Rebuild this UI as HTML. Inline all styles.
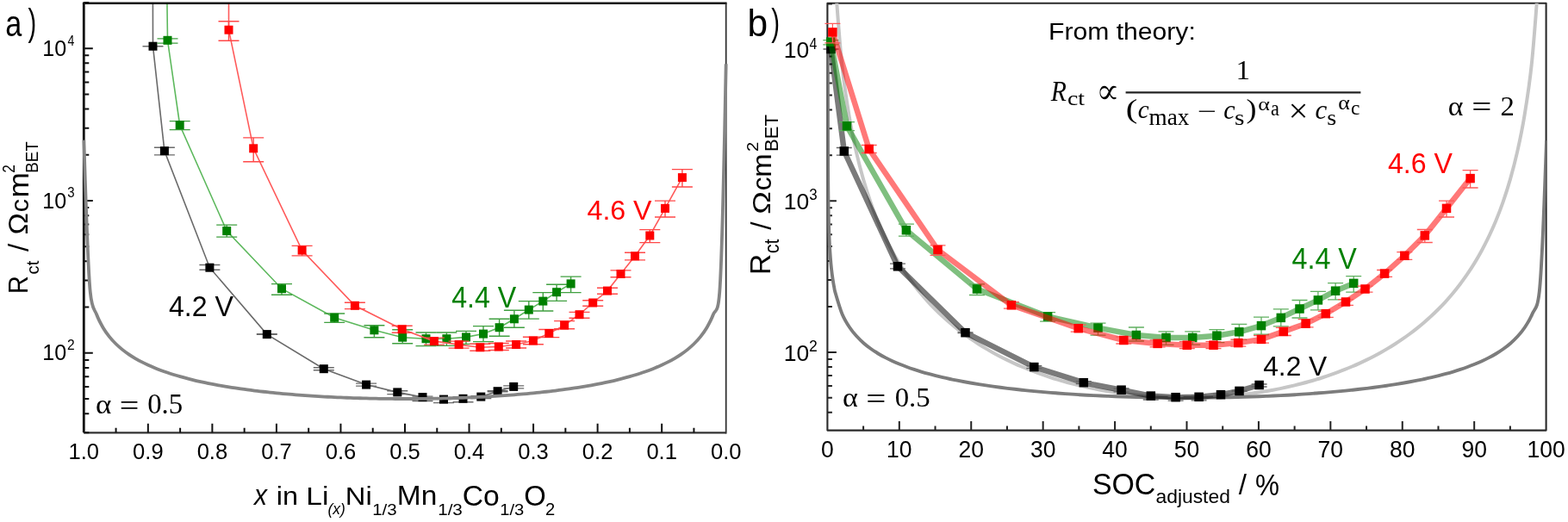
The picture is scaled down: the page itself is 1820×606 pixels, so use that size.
<!DOCTYPE html>
<html><head><meta charset="utf-8"><title>Rct vs SOC</title>
<style>html,body{margin:0;padding:0;background:#fff;overflow:hidden}svg{display:block}</style>
</head><body>
<svg width="1820" height="606" viewBox="0 0 1820 606">
<rect width="1820" height="606" fill="#fff"/>
<defs><clipPath id="cl"><rect x="97.3" y="3.8" width="745.4" height="498.5"/></clipPath>
<clipPath id="cr"><rect x="960.4" y="3.8" width="834.2" height="495.8"/></clipPath></defs>
<g clip-path="url(#cl)"><polyline points="177.4,0 177.5,53.7 190.9,175.2 243.4,310.7 309.8,388.1 375.8,428.2 425.1,446.6 461.3,455.4 490.5,461.1 515,463.6 537.5,462.8 558.3,460.6 577.6,454.2 596.2,448.9" fill="none" stroke="#6a6a6a" stroke-width="1.6"/></g>
<path d="M165.5,53.7h24M165.5,53.7h24M177.5,53.7V53.7" stroke="#6a6a6a" stroke-width="1.4" fill="none"/><rect x="172.5" y="48.7" width="10" height="10" fill="#000"/><path d="M178.9,171.2h24M178.9,179.9h24M190.9,171.2V179.9" stroke="#6a6a6a" stroke-width="1.4" fill="none"/><rect x="185.9" y="170.2" width="10" height="10" fill="#000"/><path d="M231.4,307.5h24M231.4,313.3h24M243.4,307.5V313.3" stroke="#6a6a6a" stroke-width="1.4" fill="none"/><rect x="238.4" y="305.7" width="10" height="10" fill="#000"/><path d="M297.8,387.8h24M297.8,388.4h24M309.8,387.8V388.4" stroke="#6a6a6a" stroke-width="1.4" fill="none"/><rect x="304.8" y="383.1" width="10" height="10" fill="#000"/><path d="M363.8,426.7h24M363.8,429.7h24M375.8,426.7V429.7" stroke="#6a6a6a" stroke-width="1.4" fill="none"/><rect x="370.8" y="423.2" width="10" height="10" fill="#000"/><path d="M413.1,445.1h24M413.1,448.1h24M425.1,445.1V448.1" stroke="#6a6a6a" stroke-width="1.4" fill="none"/><rect x="420.1" y="441.6" width="10" height="10" fill="#000"/><path d="M449.3,453.7h24M449.3,457.6h24M461.3,453.7V457.6" stroke="#6a6a6a" stroke-width="1.4" fill="none"/><rect x="456.3" y="450.4" width="10" height="10" fill="#000"/><path d="M478.5,460.1h24M478.5,465.5h24M490.5,460.1V465.5" stroke="#6a6a6a" stroke-width="1.4" fill="none"/><rect x="485.5" y="456.1" width="10" height="10" fill="#000"/><path d="M503,462.6h24M503,467.6h24M515,462.6V467.6" stroke="#6a6a6a" stroke-width="1.4" fill="none"/><rect x="510" y="458.6" width="10" height="10" fill="#000"/><path d="M525.5,460.8h24M525.5,466.8h24M537.5,460.8V466.8" stroke="#6a6a6a" stroke-width="1.4" fill="none"/><rect x="532.5" y="457.8" width="10" height="10" fill="#000"/><path d="M546.3,459.6h24M546.3,462.6h24M558.3,459.6V462.6" stroke="#6a6a6a" stroke-width="1.4" fill="none"/><rect x="553.3" y="455.6" width="10" height="10" fill="#000"/><path d="M565.6,453.7h24M565.6,454.7h24M577.6,453.7V454.7" stroke="#6a6a6a" stroke-width="1.4" fill="none"/><rect x="572.6" y="449.2" width="10" height="10" fill="#000"/><path d="M584.2,447.9h24M584.2,450.9h24M596.2,447.9V450.9" stroke="#6a6a6a" stroke-width="1.4" fill="none"/><rect x="591.2" y="443.9" width="10" height="10" fill="#000"/>
<g clip-path="url(#cl)"><polyline points="193.9,0 194.5,46.8 208.7,145.2 263.2,268.1 327,335.2 388.2,368.8 434.4,383.3 467.2,391.7 494.5,393.2 518.4,393.2 541,391.4 561,387.6 579.6,380.2 596.9,370.3 613.8,359.6 630.3,349.6 646.1,339.2 662.6,329.4" fill="none" stroke="#5cb85c" stroke-width="1.6"/></g>
<path d="M182.5,44.9h24M182.5,50.1h24M194.5,44.9V50.1" stroke="#40a040" stroke-width="1.4" fill="none"/><rect x="189.5" y="41.8" width="10" height="10" fill="#008000"/><path d="M196.7,140.6h24M196.7,150.6h24M208.7,140.6V150.6" stroke="#40a040" stroke-width="1.4" fill="none"/><rect x="203.7" y="140.2" width="10" height="10" fill="#008000"/><path d="M251.2,261.1h24M251.2,275.1h24M263.2,261.1V275.1" stroke="#40a040" stroke-width="1.4" fill="none"/><rect x="258.2" y="263.1" width="10" height="10" fill="#008000"/><path d="M315,329.6h24M315,342.2h24M327,329.6V342.2" stroke="#40a040" stroke-width="1.4" fill="none"/><rect x="322" y="330.2" width="10" height="10" fill="#008000"/><path d="M376.2,364h24M376.2,374.4h24M388.2,364V374.4" stroke="#40a040" stroke-width="1.4" fill="none"/><rect x="383.2" y="363.8" width="10" height="10" fill="#008000"/><path d="M422.4,377.8h24M422.4,391.8h24M434.4,377.8V391.8" stroke="#40a040" stroke-width="1.4" fill="none"/><rect x="429.4" y="378.3" width="10" height="10" fill="#008000"/><path d="M455.2,382.7h24M455.2,398.7h24M467.2,382.7V398.7" stroke="#40a040" stroke-width="1.4" fill="none"/><rect x="462.2" y="386.7" width="10" height="10" fill="#008000"/><path d="M482.5,386h24M482.5,401.6h24M494.5,386V401.6" stroke="#40a040" stroke-width="1.4" fill="none"/><rect x="489.5" y="388.2" width="10" height="10" fill="#008000"/><path d="M506.4,386h24M506.4,401.4h24M518.4,386V401.4" stroke="#40a040" stroke-width="1.4" fill="none"/><rect x="513.4" y="388.2" width="10" height="10" fill="#008000"/><path d="M529,384.4h24M529,399.4h24M541,384.4V399.4" stroke="#40a040" stroke-width="1.4" fill="none"/><rect x="536" y="386.4" width="10" height="10" fill="#008000"/><path d="M549,378.6h24M549,396.6h24M561,378.6V396.6" stroke="#40a040" stroke-width="1.4" fill="none"/><rect x="556" y="382.6" width="10" height="10" fill="#008000"/><path d="M567.6,370.2h24M567.6,390.2h24M579.6,370.2V390.2" stroke="#40a040" stroke-width="1.4" fill="none"/><rect x="574.6" y="375.2" width="10" height="10" fill="#008000"/><path d="M584.9,360.3h24M584.9,380.3h24M596.9,360.3V380.3" stroke="#40a040" stroke-width="1.4" fill="none"/><rect x="591.9" y="365.3" width="10" height="10" fill="#008000"/><path d="M601.8,349.6h24M601.8,370.1h24M613.8,349.6V370.1" stroke="#40a040" stroke-width="1.4" fill="none"/><rect x="608.8" y="354.6" width="10" height="10" fill="#008000"/><path d="M618.3,339.6h24M618.3,361h24M630.3,339.6V361" stroke="#40a040" stroke-width="1.4" fill="none"/><rect x="625.3" y="344.6" width="10" height="10" fill="#008000"/><path d="M634.1,330.2h24M634.1,349.4h24M646.1,330.2V349.4" stroke="#40a040" stroke-width="1.4" fill="none"/><rect x="641.1" y="334.2" width="10" height="10" fill="#008000"/><path d="M650.6,321.1h24M650.6,339.6h24M662.6,321.1V339.6" stroke="#40a040" stroke-width="1.4" fill="none"/><rect x="657.6" y="324.4" width="10" height="10" fill="#008000"/>
<g clip-path="url(#cl)"><polyline points="265.5,0 265.5,34.7 294.2,172.3 350.6,290.6 411.9,354.8 466.7,382.3 503.9,396.1 532.6,400.1 557.3,403.3 578.8,402.5 599.1,400 618.9,395.5 637.3,387 655.1,377.6 672.5,365.2 688.2,351.5 705,337.6 720.5,318 737,297.3 754.3,273.5 772,241.9 791.9,206.1" fill="none" stroke="#ff5a5a" stroke-width="1.6"/></g>
<path d="M253.5,24.7h24M253.5,47.2h24M265.5,24.7V47.2" stroke="#ff4848" stroke-width="1.4" fill="none"/><rect x="260.5" y="29.7" width="10" height="10" fill="#ff0000"/><path d="M282.2,159.9h24M282.2,187.7h24M294.2,159.9V187.7" stroke="#ff4848" stroke-width="1.4" fill="none"/><rect x="289.2" y="167.3" width="10" height="10" fill="#ff0000"/><path d="M338.6,285.4h24M338.6,296.9h24M350.6,285.4V296.9" stroke="#ff4848" stroke-width="1.4" fill="none"/><rect x="345.6" y="285.6" width="10" height="10" fill="#ff0000"/><path d="M399.9,351.2h24M399.9,358.6h24M411.9,351.2V358.6" stroke="#ff4848" stroke-width="1.4" fill="none"/><rect x="406.9" y="349.8" width="10" height="10" fill="#ff0000"/><path d="M454.7,378.3h24M454.7,386.3h24M466.7,378.3V386.3" stroke="#ff4848" stroke-width="1.4" fill="none"/><rect x="461.7" y="377.3" width="10" height="10" fill="#ff0000"/><path d="M491.9,392.1h24M491.9,400.1h24M503.9,392.1V400.1" stroke="#ff4848" stroke-width="1.4" fill="none"/><rect x="498.9" y="391.1" width="10" height="10" fill="#ff0000"/><path d="M520.6,396.1h24M520.6,404.1h24M532.6,396.1V404.1" stroke="#ff4848" stroke-width="1.4" fill="none"/><rect x="527.6" y="395.1" width="10" height="10" fill="#ff0000"/><path d="M545.3,399.3h24M545.3,407.3h24M557.3,399.3V407.3" stroke="#ff4848" stroke-width="1.4" fill="none"/><rect x="552.3" y="398.3" width="10" height="10" fill="#ff0000"/><path d="M566.8,398.5h24M566.8,406.5h24M578.8,398.5V406.5" stroke="#ff4848" stroke-width="1.4" fill="none"/><rect x="573.8" y="397.5" width="10" height="10" fill="#ff0000"/><path d="M587.1,396h24M587.1,404h24M599.1,396V404" stroke="#ff4848" stroke-width="1.4" fill="none"/><rect x="594.1" y="395" width="10" height="10" fill="#ff0000"/><path d="M606.9,391.3h24M606.9,399.7h24M618.9,391.3V399.7" stroke="#ff4848" stroke-width="1.4" fill="none"/><rect x="613.9" y="390.5" width="10" height="10" fill="#ff0000"/><path d="M625.3,382.5h24M625.3,391.6h24M637.3,382.5V391.6" stroke="#ff4848" stroke-width="1.4" fill="none"/><rect x="632.3" y="382" width="10" height="10" fill="#ff0000"/><path d="M643.1,372.6h24M643.1,381.7h24M655.1,372.6V381.7" stroke="#ff4848" stroke-width="1.4" fill="none"/><rect x="650.1" y="372.6" width="10" height="10" fill="#ff0000"/><path d="M660.5,362.4h24M660.5,369.3h24M672.5,362.4V369.3" stroke="#ff4848" stroke-width="1.4" fill="none"/><rect x="667.5" y="360.2" width="10" height="10" fill="#ff0000"/><path d="M676.2,348.7h24M676.2,355.3h24M688.2,348.7V355.3" stroke="#ff4848" stroke-width="1.4" fill="none"/><rect x="683.2" y="346.5" width="10" height="10" fill="#ff0000"/><path d="M693,334.3h24M693,341.3h24M705,334.3V341.3" stroke="#ff4848" stroke-width="1.4" fill="none"/><rect x="700" y="332.6" width="10" height="10" fill="#ff0000"/><path d="M708.5,313.9h24M708.5,321.8h24M720.5,313.9V321.8" stroke="#ff4848" stroke-width="1.4" fill="none"/><rect x="715.5" y="313" width="10" height="10" fill="#ff0000"/><path d="M725,293.2h24M725,301.9h24M737,293.2V301.9" stroke="#ff4848" stroke-width="1.4" fill="none"/><rect x="732" y="292.3" width="10" height="10" fill="#ff0000"/><path d="M742.3,266.6h24M742.3,281.6h24M754.3,266.6V281.6" stroke="#ff4848" stroke-width="1.4" fill="none"/><rect x="749.3" y="268.5" width="10" height="10" fill="#ff0000"/><path d="M760,233.1h24M760,252h24M772,233.1V252" stroke="#ff4848" stroke-width="1.4" fill="none"/><rect x="767" y="236.9" width="10" height="10" fill="#ff0000"/><path d="M779.9,196.6h24M779.9,217h24M791.9,196.6V217" stroke="#ff4848" stroke-width="1.4" fill="none"/><rect x="786.9" y="201.1" width="10" height="10" fill="#ff0000"/>
<path d="M97.3,3.8V502.3" stroke="#111" stroke-width="2.8"/>
<path d="M95.9,3.8H843.6" stroke="#111" stroke-width="2.6"/>
<path d="M97.3,502.3H842.7" stroke="#333" stroke-width="2.2"/>
<path d="M842.7,3.8V503.4" stroke="#333" stroke-width="1.8"/>
<path d="M768.16,502.3v-10.5 M693.62,502.3v-10.5 M619.08,502.3v-10.5 M544.54,502.3v-10.5 M470,502.3v-10.5 M395.46,502.3v-10.5 M320.92,502.3v-10.5 M246.38,502.3v-10.5 M171.84,502.3v-10.5 M805.43,502.3v-5.5 M730.89,502.3v-5.5 M656.35,502.3v-5.5 M581.81,502.3v-5.5 M507.27,502.3v-5.5 M432.73,502.3v-5.5 M358.19,502.3v-5.5 M283.65,502.3v-5.5 M209.11,502.3v-5.5 M134.57,502.3v-5.5 M97.3,502.24h6 M97.3,480.16h6 M97.3,463.02h6 M97.3,449.02h6 M97.3,437.19h6 M97.3,426.93h6 M97.3,417.89h6 M97.3,409.8h10.5 M97.3,356.58h6 M97.3,325.44h6 M97.3,303.36h6 M97.3,286.22h6 M97.3,272.22h6 M97.3,260.39h6 M97.3,250.13h6 M97.3,241.09h6 M97.3,233h10.5 M97.3,179.78h6 M97.3,148.64h6 M97.3,126.56h6 M97.3,109.42h6 M97.3,95.42h6 M97.3,83.59h6 M97.3,73.33h6 M97.3,64.29h6 M97.3,56.2h10.5 M97.3,2.98h6" stroke="#111" stroke-width="2"/>
<path d="M842.69,74.24 C842.64,76.03 838.61,296.36 835.25,339.06 C833.11,366.15 830.41,358.2 827.79,365.28 C825.42,371.71 822.89,376.07 820.34,380.45 C817.92,384.61 815.41,387.93 812.88,391.1 C810.44,394.17 807.94,396.78 805.43,399.26 C802.97,401.69 800.48,403.83 797.98,405.86 C795.51,407.86 793.02,409.65 790.52,411.36 C788.05,413.06 785.56,414.6 783.07,416.08 C780.59,417.54 778.11,418.89 775.61,420.18 C773.14,421.46 770.65,422.66 768.16,423.8 C765.68,424.94 763.19,426.01 760.71,427.03 C758.23,428.05 755.74,429.01 753.25,429.94 C750.77,430.86 748.29,431.73 745.8,432.57 C743.32,433.41 740.83,434.2 738.34,434.97 C735.86,435.74 733.38,436.47 730.89,437.17 C728.41,437.87 725.92,438.55 723.44,439.19 C720.95,439.84 718.47,440.46 715.98,441.06 C713.5,441.66 711.01,442.24 708.53,442.79 C706.04,443.35 703.56,443.88 701.07,444.4 C698.59,444.91 696.11,445.41 693.62,445.89 C691.14,446.37 688.65,446.83 686.17,447.28 C683.68,447.73 681.2,448.16 678.71,448.58 C676.23,448.99 673.74,449.4 671.26,449.79 C668.77,450.18 666.29,450.55 663.8,450.92 C661.32,451.28 658.83,451.64 656.35,451.98 C653.87,452.32 651.38,452.65 648.9,452.97 C646.41,453.29 643.93,453.6 641.44,453.89 C638.96,454.19 636.47,454.48 633.99,454.76 C631.5,455.04 629.02,455.31 626.53,455.57 C624.05,455.83 621.56,456.08 619.08,456.33 C616.6,456.57 614.11,456.81 611.63,457.03 C609.14,457.26 606.66,457.48 604.17,457.69 C601.69,457.91 599.2,458.11 596.72,458.31 C594.23,458.5 591.75,458.69 589.26,458.87 C586.78,459.06 584.29,459.23 581.81,459.4 C579.33,459.57 576.84,459.73 574.36,459.89 C571.87,460.04 569.39,460.19 566.9,460.33 C564.42,460.48 561.93,460.61 559.45,460.74 C556.96,460.87 554.48,461 551.99,461.12 C549.51,461.24 547.02,461.35 544.54,461.45 C542.06,461.56 539.57,461.66 537.09,461.76 C534.6,461.85 532.12,461.94 529.63,462.03 C527.15,462.11 524.66,462.19 522.18,462.26 C519.69,462.34 517.21,462.4 514.72,462.47 C512.24,462.53 509.75,462.58 507.27,462.64 C504.79,462.69 502.3,462.73 499.82,462.78 C497.33,462.82 494.85,462.85 492.36,462.88 C489.88,462.91 487.39,462.94 484.91,462.96 C482.42,462.98 479.94,463 477.45,463.01 C474.97,463.02 472.48,463.02 470,463.02 C467.52,463.02 465.03,463.02 462.55,463.01 C460.06,463 457.58,462.98 455.09,462.96 C452.61,462.94 450.12,462.91 447.64,462.88 C445.15,462.85 442.67,462.82 440.18,462.78 C437.7,462.73 435.21,462.69 432.73,462.64 C430.25,462.58 427.76,462.53 425.28,462.47 C422.79,462.4 420.31,462.34 417.82,462.26 C415.34,462.19 412.85,462.11 410.37,462.03 C407.88,461.94 405.4,461.85 402.91,461.76 C400.43,461.66 397.94,461.56 395.46,461.45 C392.98,461.35 390.49,461.24 388.01,461.12 C385.52,461 383.04,460.87 380.55,460.74 C378.07,460.61 375.58,460.48 373.1,460.33 C370.61,460.19 368.13,460.04 365.64,459.89 C363.16,459.73 360.67,459.57 358.19,459.4 C355.71,459.23 353.22,459.06 350.74,458.87 C348.25,458.69 345.77,458.5 343.28,458.31 C340.8,458.11 338.31,457.91 335.83,457.69 C333.34,457.48 330.86,457.26 328.37,457.03 C325.89,456.81 323.4,456.57 320.92,456.33 C318.44,456.08 315.95,455.83 313.47,455.57 C310.98,455.31 308.5,455.04 306.01,454.76 C303.53,454.48 301.04,454.19 298.56,453.89 C296.07,453.6 293.59,453.29 291.1,452.97 C288.62,452.65 286.13,452.32 283.65,451.98 C281.17,451.64 278.68,451.28 276.2,450.92 C273.71,450.55 271.23,450.18 268.74,449.79 C266.26,449.4 263.77,448.99 261.29,448.58 C258.8,448.16 256.32,447.73 253.83,447.28 C251.35,446.83 248.86,446.37 246.38,445.89 C243.89,445.41 241.41,444.91 238.93,444.4 C236.44,443.88 233.96,443.35 231.47,442.79 C228.99,442.24 226.5,441.66 224.02,441.06 C221.53,440.46 219.05,439.84 216.56,439.19 C214.08,438.55 211.59,437.87 209.11,437.17 C206.62,436.47 204.14,435.74 201.66,434.97 C199.17,434.2 196.68,433.41 194.2,432.57 C191.71,431.73 189.23,430.86 186.75,429.94 C184.26,429.01 181.77,428.05 179.29,427.03 C176.81,426.01 174.32,424.94 171.84,423.8 C169.35,422.66 166.86,421.46 164.39,420.18 C161.89,418.89 159.41,417.54 156.93,416.08 C154.44,414.6 151.95,413.06 149.48,411.36 C146.98,409.65 144.49,407.86 142.02,405.86 C139.52,403.83 137.03,401.69 134.57,399.26 C132.06,396.78 129.56,394.17 127.12,391.1 C124.59,387.93 122.08,384.61 119.66,380.45 C117.11,376.07 114.58,371.71 112.21,365.28 C109.59,358.2 106.92,360.73 104.75,339.06 C101.61,307.56 97.43,163.93 97.37,162.64" fill="none" stroke="#858585" stroke-width="3.8" stroke-linejoin="round"/>
<path d="M960.4,3.8V499.6H1794.6V3.8Z" stroke="#2a2a2a" stroke-width="2.1" fill="none" stroke-linejoin="round"/>
<path d="M1043.82,499.6v-10.5 M1127.24,499.6v-10.5 M1210.66,499.6v-10.5 M1294.08,499.6v-10.5 M1377.5,499.6v-10.5 M1460.92,499.6v-10.5 M1544.34,499.6v-10.5 M1627.76,499.6v-10.5 M1711.18,499.6v-10.5 M1002.11,499.6v-5 M1085.53,499.6v-5 M1168.95,499.6v-5 M1252.37,499.6v-5 M1335.79,499.6v-5 M1419.21,499.6v-5 M1502.63,499.6v-5 M1586.05,499.6v-5 M1669.47,499.6v-5 M1752.89,499.6v-5 M960.4,478.82h5.5 M960.4,461.79h5.5 M960.4,447.88h5.5 M960.4,436.12h5.5 M960.4,425.93h5.5 M960.4,416.94h5.5 M960.4,408.9h10.5 M960.4,356.01h5.5 M960.4,325.07h5.5 M960.4,303.12h5.5 M960.4,286.09h5.5 M960.4,272.18h5.5 M960.4,260.42h5.5 M960.4,250.23h5.5 M960.4,241.24h5.5 M960.4,233.2h10.5 M960.4,180.31h5.5 M960.4,149.37h5.5 M960.4,127.42h5.5 M960.4,110.39h5.5 M960.4,96.48h5.5 M960.4,84.72h5.5 M960.4,74.53h5.5 M960.4,65.54h5.5 M960.4,57.5h10.5 M960.4,4.61h5.5" stroke="#222" stroke-width="2"/>
<g clip-path="url(#cr)">
<path d="M968.74,-30.98 C968.81,-30.13 974.14,45.01 977.08,73.25 C979.73,98.6 982.54,116.04 985.43,133.57 C988.12,149.92 990.91,163.18 993.77,175.89 C996.48,187.97 999.27,198.41 1002.11,208.34 C1004.84,217.9 1007.63,226.43 1010.45,234.55 C1013.19,242.42 1015.98,249.6 1018.79,256.45 C1021.54,263.12 1024.32,269.28 1027.14,275.18 C1029.89,280.94 1032.67,286.32 1035.48,291.48 C1038.23,296.55 1041.02,301.3 1043.82,305.88 C1046.58,310.37 1049.36,314.62 1052.16,318.72 C1054.92,322.75 1057.71,326.58 1060.5,330.27 C1063.27,333.92 1066.05,337.39 1068.85,340.74 C1071.61,344.06 1074.39,347.23 1077.19,350.29 C1079.96,353.32 1082.74,356.22 1085.53,359.03 C1088.3,361.82 1091.08,364.49 1093.87,367.07 C1096.64,369.64 1099.42,372.11 1102.21,374.5 C1104.99,376.87 1107.77,379.16 1110.56,381.37 C1113.33,383.57 1116.11,385.69 1118.9,387.75 C1121.67,389.8 1124.45,391.77 1127.24,393.68 C1130.01,395.59 1132.8,397.43 1135.58,399.21 C1138.36,400.99 1141.14,402.7 1143.92,404.36 C1146.7,406.02 1149.48,407.62 1152.27,409.18 C1155.04,410.73 1157.82,412.23 1160.61,413.68 C1163.38,415.13 1166.17,416.53 1168.95,417.89 C1171.73,419.24 1174.51,420.55 1177.29,421.82 C1180.07,423.09 1182.85,424.32 1185.63,425.51 C1188.41,426.69 1191.19,427.84 1193.98,428.95 C1196.75,430.06 1199.54,431.13 1202.32,432.17 C1205.1,433.21 1207.88,434.21 1210.66,435.18 C1213.44,436.15 1216.22,437.09 1219,437.99 C1221.78,438.89 1224.56,439.77 1227.34,440.61 C1230.12,441.45 1232.9,442.26 1235.69,443.04 C1238.47,443.83 1241.25,444.58 1244.03,445.3 C1246.81,446.03 1249.59,446.73 1252.37,447.4 C1255.15,448.07 1257.93,448.71 1260.71,449.33 C1263.49,449.95 1266.27,450.54 1269.05,451.11 C1271.83,451.68 1274.61,452.22 1277.4,452.74 C1280.18,453.26 1282.96,453.75 1285.74,454.22 C1288.52,454.69 1291.3,455.14 1294.08,455.56 C1296.86,455.99 1299.64,456.39 1302.42,456.76 C1305.2,457.14 1307.98,457.5 1310.76,457.83 C1313.54,458.17 1316.32,458.48 1319.11,458.77 C1321.89,459.06 1324.67,459.33 1327.45,459.58 C1330.23,459.83 1333.01,460.05 1335.79,460.26 C1338.57,460.46 1341.35,460.65 1344.13,460.81 C1346.91,460.98 1349.69,461.12 1352.47,461.24 C1355.25,461.36 1358.04,461.47 1360.82,461.55 C1363.6,461.63 1366.38,461.69 1369.16,461.73 C1371.94,461.77 1374.72,461.79 1377.5,461.79 C1380.28,461.79 1383.06,461.77 1385.84,461.73 C1388.62,461.69 1391.4,461.63 1394.18,461.55 C1396.96,461.47 1399.75,461.36 1402.53,461.24 C1405.31,461.12 1408.09,460.98 1410.87,460.81 C1413.65,460.65 1416.43,460.46 1419.21,460.26 C1421.99,460.05 1424.77,459.83 1427.55,459.58 C1430.33,459.33 1433.11,459.06 1435.89,458.77 C1438.68,458.48 1441.46,458.17 1444.24,457.83 C1447.02,457.5 1449.8,457.14 1452.58,456.76 C1455.36,456.39 1458.14,455.99 1460.92,455.56 C1463.7,455.14 1466.48,454.69 1469.26,454.22 C1472.04,453.75 1474.82,453.26 1477.6,452.74 C1480.39,452.22 1483.17,451.68 1485.95,451.11 C1488.73,450.54 1491.51,449.95 1494.29,449.33 C1497.07,448.71 1499.85,448.07 1502.63,447.4 C1505.41,446.73 1508.19,446.03 1510.97,445.3 C1513.75,444.58 1516.53,443.83 1519.31,443.04 C1522.1,442.26 1524.88,441.45 1527.66,440.61 C1530.44,439.77 1533.22,438.89 1536,437.99 C1538.78,437.09 1541.56,436.15 1544.34,435.18 C1547.12,434.21 1549.9,433.21 1552.68,432.17 C1555.46,431.13 1558.25,430.06 1561.02,428.95 C1563.81,427.84 1566.59,426.69 1569.37,425.51 C1572.15,424.32 1574.93,423.09 1577.71,421.82 C1580.49,420.55 1583.27,419.24 1586.05,417.89 C1588.83,416.53 1591.62,415.13 1594.39,413.68 C1597.18,412.23 1599.96,410.73 1602.73,409.18 C1605.52,407.62 1608.3,406.02 1611.08,404.36 C1613.86,402.7 1616.64,400.99 1619.42,399.21 C1622.2,397.43 1624.99,395.59 1627.76,393.68 C1630.55,391.77 1633.33,389.8 1636.1,387.75 C1638.89,385.69 1641.67,383.57 1644.44,381.37 C1647.23,379.16 1650.01,376.87 1652.79,374.5 C1655.58,372.11 1658.36,369.64 1661.13,367.07 C1663.92,364.49 1666.7,361.82 1669.47,359.03 C1672.26,356.22 1675.04,353.32 1677.81,350.29 C1680.61,347.23 1683.39,344.06 1686.15,340.74 C1688.95,337.39 1691.73,333.92 1694.5,330.27 C1697.29,326.58 1700.08,322.75 1702.84,318.72 C1705.64,314.62 1708.42,310.37 1711.18,305.88 C1713.98,301.3 1716.77,296.55 1719.52,291.48 C1722.33,286.32 1725.11,280.94 1727.86,275.18 C1730.68,269.28 1733.46,263.12 1736.21,256.45 C1739.02,249.6 1741.81,242.42 1744.55,234.55 C1747.37,226.43 1750.16,217.9 1752.89,208.34 C1755.73,198.41 1758.52,187.97 1761.23,175.89 C1764.09,163.18 1766.88,149.92 1769.57,133.57 C1772.46,116.04 1775.27,98.6 1777.92,73.25 C1780.86,45.01 1786.19,-30.13 1786.26,-30.98" fill="none" stroke="#c6c6c6" stroke-width="4.0" stroke-linejoin="round"/>
<path d="M960.91,57.86 C960.91,57.96 960.91,62.59 960.91,64.96 C960.91,67.32 960.91,69.69 960.91,72.05 C960.91,74.42 960.91,76.78 960.91,79.15 C960.91,81.51 960.91,83.88 960.91,86.24 C960.91,88.61 960.91,90.97 960.91,93.34 C960.91,95.7 960.92,98.07 960.92,100.43 C960.92,102.8 960.92,105.16 960.92,107.53 C960.92,109.9 960.92,112.26 960.92,114.63 C960.93,116.99 960.93,119.36 960.93,121.72 C960.93,124.09 960.93,126.45 960.93,128.82 C960.94,131.18 960.94,133.55 960.94,135.91 C960.94,138.28 960.95,140.64 960.95,143.01 C960.95,145.37 960.96,147.74 960.96,150.1 C960.96,152.47 960.97,154.83 960.97,157.2 C960.98,159.56 960.98,161.93 960.99,164.29 C960.99,166.66 961,169.02 961,171.39 C961.01,173.75 961.02,176.12 961.02,178.48 C961.03,180.85 961.04,183.21 961.05,185.58 C961.06,187.94 961.07,190.3 961.08,192.67 C961.09,195.03 961.1,197.4 961.12,199.76 C961.13,202.13 961.15,204.49 961.16,206.86 C961.18,209.22 961.2,211.59 961.22,213.95 C961.24,216.31 961.26,218.68 961.28,221.04 C961.3,223.41 961.33,225.77 961.36,228.13 C961.39,230.5 961.42,232.86 961.45,235.23 C961.48,237.59 961.52,239.95 961.56,242.32 C961.6,244.68 961.65,247.04 961.7,249.41 C961.75,251.77 961.8,254.13 961.86,256.49 C961.92,258.86 961.99,261.22 962.06,263.58 C962.13,265.94 962.21,268.3 962.29,270.67 C962.38,273.03 962.48,275.39 962.58,277.75 C962.68,280.11 962.8,282.47 962.92,284.83 C963.05,287.19 963.18,289.55 963.34,291.9 C963.49,294.26 963.65,296.62 963.83,298.98 C964.02,301.33 964.21,303.69 964.43,306.05 C964.65,308.4 964.89,310.75 965.16,313.11 C965.42,315.46 965.71,317.81 966.03,320.16 C966.35,322.51 966.69,324.86 967.07,327.21 C967.46,329.56 967.96,332.3 968.34,334.25 C968.68,336.02 968.27,335.27 969.24,338.6 C970.64,343.39 974.66,357.63 977.58,364.66 C980.25,371.06 983.07,375.39 985.93,379.73 C988.64,383.88 991.45,387.16 994.27,390.32 C997.01,393.37 999.8,395.97 1002.61,398.43 C1005.37,400.85 1008.15,402.97 1010.95,404.98 C1013.72,406.97 1016.5,408.76 1019.29,410.46 C1022.06,412.14 1024.85,413.67 1027.64,415.14 C1030.41,416.59 1033.19,417.93 1035.98,419.21 C1038.75,420.49 1041.54,421.68 1044.32,422.81 C1047.1,423.94 1049.88,425 1052.66,426.02 C1055.44,427.04 1058.22,427.99 1061,428.91 C1063.78,429.83 1066.56,430.69 1069.35,431.53 C1072.13,432.36 1074.91,433.15 1077.69,433.91 C1080.47,434.68 1083.25,435.4 1086.03,436.1 C1088.81,436.8 1091.59,437.47 1094.37,438.11 C1097.15,438.76 1099.93,439.37 1102.71,439.97 C1105.49,440.56 1108.28,441.13 1111.06,441.69 C1113.84,442.24 1116.62,442.77 1119.4,443.28 C1122.18,443.79 1124.96,444.29 1127.74,444.76 C1130.52,445.24 1133.3,445.7 1136.08,446.15 C1138.86,446.59 1141.64,447.02 1144.42,447.43 C1147.2,447.85 1149.99,448.25 1152.77,448.64 C1155.55,449.03 1158.33,449.4 1161.11,449.76 C1163.89,450.13 1166.67,450.48 1169.45,450.82 C1172.23,451.15 1175.01,451.48 1177.79,451.8 C1180.57,452.12 1183.35,452.42 1186.13,452.72 C1188.91,453.02 1191.7,453.3 1194.48,453.58 C1197.26,453.86 1200.04,454.13 1202.82,454.39 C1205.6,454.65 1208.38,454.9 1211.16,455.14 C1213.94,455.38 1216.72,455.61 1219.5,455.84 C1222.28,456.07 1225.06,456.28 1227.84,456.5 C1230.63,456.71 1233.41,456.91 1236.19,457.1 C1238.97,457.3 1241.75,457.49 1244.53,457.67 C1247.31,457.85 1250.09,458.02 1252.87,458.19 C1255.65,458.36 1258.43,458.52 1261.21,458.68 C1263.99,458.83 1266.77,458.98 1269.55,459.12 C1272.34,459.26 1275.12,459.4 1277.9,459.53 C1280.68,459.66 1283.46,459.78 1286.24,459.9 C1289.02,460.02 1291.8,460.13 1294.58,460.23 C1297.36,460.34 1300.14,460.44 1302.92,460.53 C1305.7,460.63 1308.48,460.72 1311.26,460.8 C1314.05,460.89 1316.83,460.96 1319.61,461.04 C1322.39,461.11 1325.17,461.18 1327.95,461.24 C1330.73,461.3 1333.51,461.36 1336.29,461.41 C1339.07,461.46 1341.85,461.51 1344.63,461.55 C1347.41,461.59 1350.19,461.62 1352.97,461.65 C1355.76,461.68 1358.54,461.71 1361.32,461.73 C1364.1,461.75 1366.88,461.77 1369.66,461.78 C1372.44,461.79 1375.22,461.79 1378,461.79 C1380.78,461.79 1383.56,461.79 1386.34,461.78 C1389.12,461.77 1391.9,461.75 1394.68,461.73 C1397.47,461.71 1400.25,461.68 1403.03,461.65 C1405.81,461.62 1408.59,461.59 1411.37,461.55 C1414.15,461.51 1416.93,461.46 1419.71,461.41 C1422.49,461.36 1425.27,461.3 1428.05,461.24 C1430.83,461.18 1433.61,461.11 1436.39,461.04 C1439.18,460.96 1441.96,460.89 1444.74,460.8 C1447.52,460.72 1450.3,460.63 1453.08,460.53 C1455.86,460.44 1458.64,460.34 1461.42,460.23 C1464.2,460.13 1466.98,460.02 1469.76,459.9 C1472.54,459.78 1475.32,459.66 1478.1,459.53 C1480.89,459.4 1483.67,459.26 1486.45,459.12 C1489.23,458.98 1492.01,458.83 1494.79,458.68 C1497.57,458.52 1500.35,458.36 1503.13,458.19 C1505.91,458.02 1508.69,457.85 1511.47,457.67 C1514.25,457.49 1517.03,457.3 1519.81,457.1 C1522.6,456.91 1525.38,456.71 1528.16,456.5 C1530.94,456.28 1533.72,456.07 1536.5,455.84 C1539.28,455.61 1542.06,455.38 1544.84,455.14 C1547.62,454.9 1550.4,454.65 1553.18,454.39 C1555.96,454.13 1558.74,453.86 1561.52,453.58 C1564.31,453.3 1567.09,453.02 1569.87,452.72 C1572.65,452.42 1575.43,452.12 1578.21,451.8 C1580.99,451.48 1583.77,451.15 1586.55,450.82 C1589.33,450.48 1592.11,450.13 1594.89,449.76 C1597.67,449.4 1600.45,449.03 1603.23,448.64 C1606.02,448.25 1608.8,447.85 1611.58,447.43 C1614.36,447.02 1617.14,446.59 1619.92,446.15 C1622.7,445.7 1625.48,445.24 1628.26,444.76 C1631.04,444.29 1633.82,443.79 1636.6,443.28 C1639.38,442.77 1642.16,442.24 1644.94,441.69 C1647.73,441.13 1650.51,440.56 1653.29,439.97 C1656.07,439.37 1658.85,438.76 1661.63,438.11 C1664.41,437.47 1667.19,436.8 1669.97,436.1 C1672.75,435.4 1675.53,434.68 1678.31,433.91 C1681.09,433.15 1683.88,432.36 1686.65,431.53 C1689.44,430.69 1692.22,429.83 1695,428.91 C1697.78,427.99 1700.56,427.04 1703.34,426.02 C1706.12,425 1708.9,423.94 1711.68,422.81 C1714.47,421.68 1717.25,420.49 1720.02,419.21 C1722.81,417.93 1725.59,416.59 1728.36,415.14 C1731.15,413.67 1733.94,412.14 1736.71,410.46 C1739.5,408.76 1742.28,406.97 1745.05,404.98 C1747.85,402.97 1750.64,400.85 1753.39,398.43 C1756.2,395.97 1758.99,393.37 1761.73,390.32 C1764.56,387.16 1767.36,383.88 1770.07,379.73 C1772.93,375.39 1775.75,371.06 1778.42,364.66 C1781.34,357.63 1784.34,360.19 1786.76,338.6 C1790.27,307.29 1794.96,164.56 1795.02,163.28" fill="none" stroke="#7c7c7c" stroke-width="3.9" stroke-linejoin="round"/>
</g>
<g clip-path="url(#cr)"><polyline points="964.5,57 979.8,175.5 1042,309.3 1120.5,386.2 1200.3,426.1 1257.8,444.2 1301.6,452.7 1335.8,459.6 1364.6,461.2 1391.6,460.8 1417,458.2 1438.5,453.9 1461.6,447" fill="none" stroke="#000" stroke-opacity="0.52" stroke-width="6.5" stroke-linejoin="round"/></g>
<path d="M955.5,57h18M955.5,57h18M964.5,57V57" stroke="#666" stroke-width="1.3" fill="none"/><rect x="959.25" y="51.75" width="10.5" height="10.5" fill="#000"/><path d="M970.8,171.5h18M970.8,180.2h18M979.8,171.5V180.2" stroke="#666" stroke-width="1.3" fill="none"/><rect x="974.55" y="170.25" width="10.5" height="10.5" fill="#000"/><path d="M1033,306.1h18M1033,311.9h18M1042,306.1V311.9" stroke="#666" stroke-width="1.3" fill="none"/><rect x="1036.75" y="304.05" width="10.5" height="10.5" fill="#000"/><path d="M1111.5,385.9h18M1111.5,386.5h18M1120.5,385.9V386.5" stroke="#666" stroke-width="1.3" fill="none"/><rect x="1115.25" y="380.95" width="10.5" height="10.5" fill="#000"/><path d="M1191.3,424.6h18M1191.3,427.6h18M1200.3,424.6V427.6" stroke="#666" stroke-width="1.3" fill="none"/><rect x="1195.05" y="420.85" width="10.5" height="10.5" fill="#000"/><path d="M1248.8,442.7h18M1248.8,445.7h18M1257.8,442.7V445.7" stroke="#666" stroke-width="1.3" fill="none"/><rect x="1252.55" y="438.95" width="10.5" height="10.5" fill="#000"/><path d="M1292.6,451h18M1292.6,454.9h18M1301.6,451V454.9" stroke="#666" stroke-width="1.3" fill="none"/><rect x="1296.35" y="447.45" width="10.5" height="10.5" fill="#000"/><path d="M1326.8,458.6h18M1326.8,464h18M1335.8,458.6V464" stroke="#666" stroke-width="1.3" fill="none"/><rect x="1330.55" y="454.35" width="10.5" height="10.5" fill="#000"/><path d="M1355.6,460.2h18M1355.6,465.2h18M1364.6,460.2V465.2" stroke="#666" stroke-width="1.3" fill="none"/><rect x="1359.35" y="455.95" width="10.5" height="10.5" fill="#000"/><path d="M1382.6,458.8h18M1382.6,464.8h18M1391.6,458.8V464.8" stroke="#666" stroke-width="1.3" fill="none"/><rect x="1386.35" y="455.55" width="10.5" height="10.5" fill="#000"/><path d="M1408,457.2h18M1408,460.2h18M1417,457.2V460.2" stroke="#666" stroke-width="1.3" fill="none"/><rect x="1411.75" y="452.95" width="10.5" height="10.5" fill="#000"/><path d="M1429.5,453.4h18M1429.5,454.4h18M1438.5,453.4V454.4" stroke="#666" stroke-width="1.3" fill="none"/><rect x="1433.25" y="448.65" width="10.5" height="10.5" fill="#000"/><path d="M1452.6,446h18M1452.6,449h18M1461.6,446V449" stroke="#666" stroke-width="1.3" fill="none"/><rect x="1456.35" y="441.75" width="10.5" height="10.5" fill="#000"/>
<g clip-path="url(#cr)"><polyline points="964.3,48.6 983,146.3 1051.9,267.2 1134,335.5 1216.1,367.5 1274.5,380.6 1318.9,389 1353.5,392 1384.2,392 1412.4,389.7 1438.3,385.3 1464,378.1 1486.8,368.9 1508.5,358.5 1529.9,348.4 1550.1,337.7 1571.2,328.9" fill="none" stroke="#008000" stroke-opacity="0.5" stroke-width="6.5" stroke-linejoin="round"/></g>
<path d="M955.3,46.7h18M955.3,51.9h18M964.3,46.7V51.9" stroke="#60b060" stroke-width="1.3" fill="none"/><rect x="959.05" y="43.35" width="10.5" height="10.5" fill="#008000"/><path d="M974,141.7h18M974,151.7h18M983,141.7V151.7" stroke="#60b060" stroke-width="1.3" fill="none"/><rect x="977.75" y="141.05" width="10.5" height="10.5" fill="#008000"/><path d="M1042.9,260.2h18M1042.9,274.2h18M1051.9,260.2V274.2" stroke="#60b060" stroke-width="1.3" fill="none"/><rect x="1046.65" y="261.95" width="10.5" height="10.5" fill="#008000"/><path d="M1125,329.9h18M1125,342.5h18M1134,329.9V342.5" stroke="#60b060" stroke-width="1.3" fill="none"/><rect x="1128.75" y="330.25" width="10.5" height="10.5" fill="#008000"/><path d="M1207.1,362.7h18M1207.1,373.1h18M1216.1,362.7V373.1" stroke="#60b060" stroke-width="1.3" fill="none"/><rect x="1210.85" y="362.25" width="10.5" height="10.5" fill="#008000"/><path d="M1265.5,375.1h18M1265.5,389.1h18M1274.5,375.1V389.1" stroke="#60b060" stroke-width="1.3" fill="none"/><rect x="1269.25" y="375.35" width="10.5" height="10.5" fill="#008000"/><path d="M1309.9,380h18M1309.9,396h18M1318.9,380V396" stroke="#60b060" stroke-width="1.3" fill="none"/><rect x="1313.65" y="383.75" width="10.5" height="10.5" fill="#008000"/><path d="M1344.5,384.8h18M1344.5,400.4h18M1353.5,384.8V400.4" stroke="#60b060" stroke-width="1.3" fill="none"/><rect x="1348.25" y="386.75" width="10.5" height="10.5" fill="#008000"/><path d="M1375.2,384.8h18M1375.2,400.2h18M1384.2,384.8V400.2" stroke="#60b060" stroke-width="1.3" fill="none"/><rect x="1378.95" y="386.75" width="10.5" height="10.5" fill="#008000"/><path d="M1403.4,382.7h18M1403.4,397.7h18M1412.4,382.7V397.7" stroke="#60b060" stroke-width="1.3" fill="none"/><rect x="1407.15" y="384.45" width="10.5" height="10.5" fill="#008000"/><path d="M1429.3,376.3h18M1429.3,394.3h18M1438.3,376.3V394.3" stroke="#60b060" stroke-width="1.3" fill="none"/><rect x="1433.05" y="380.05" width="10.5" height="10.5" fill="#008000"/><path d="M1455,368.1h18M1455,388.1h18M1464,368.1V388.1" stroke="#60b060" stroke-width="1.3" fill="none"/><rect x="1458.75" y="372.85" width="10.5" height="10.5" fill="#008000"/><path d="M1477.8,358.9h18M1477.8,378.9h18M1486.8,358.9V378.9" stroke="#60b060" stroke-width="1.3" fill="none"/><rect x="1481.55" y="363.65" width="10.5" height="10.5" fill="#008000"/><path d="M1499.5,348.5h18M1499.5,369h18M1508.5,348.5V369" stroke="#60b060" stroke-width="1.3" fill="none"/><rect x="1503.25" y="353.25" width="10.5" height="10.5" fill="#008000"/><path d="M1520.9,338.4h18M1520.9,359.8h18M1529.9,338.4V359.8" stroke="#60b060" stroke-width="1.3" fill="none"/><rect x="1524.65" y="343.15" width="10.5" height="10.5" fill="#008000"/><path d="M1541.1,328.7h18M1541.1,347.9h18M1550.1,328.7V347.9" stroke="#60b060" stroke-width="1.3" fill="none"/><rect x="1544.85" y="332.45" width="10.5" height="10.5" fill="#008000"/><path d="M1562.2,320.6h18M1562.2,339.1h18M1571.2,320.6V339.1" stroke="#60b060" stroke-width="1.3" fill="none"/><rect x="1565.95" y="323.65" width="10.5" height="10.5" fill="#008000"/>
<g clip-path="url(#cr)"><polyline points="966.4,37.4 1008.7,173 1088.5,290 1173.9,354.3 1251.7,381.2 1304.3,395 1343.6,398.9 1377.8,400.7 1408.5,400.7 1437.3,398.1 1464,393.9 1489.8,384.9 1515.6,375.7 1538.8,364.2 1562,350.5 1584.5,335.5 1607.1,317.6 1630.3,296.8 1653.8,273.4 1679,241.9 1706.6,207.1" fill="none" stroke="#ff0000" stroke-opacity="0.53" stroke-width="6.5" stroke-linejoin="round"/></g>
<path d="M957.4,27.4h18M957.4,49.9h18M966.4,27.4V49.9" stroke="#ff5a5a" stroke-width="1.3" fill="none"/><rect x="961.15" y="32.15" width="10.5" height="10.5" fill="#ff0000"/><path d="M999.7,168.5h18M999.7,177.5h18M1008.7,168.5V177.5" stroke="#ff5a5a" stroke-width="1.3" fill="none"/><rect x="1003.45" y="167.75" width="10.5" height="10.5" fill="#ff0000"/><path d="M1079.5,284.8h18M1079.5,296.3h18M1088.5,284.8V296.3" stroke="#ff5a5a" stroke-width="1.3" fill="none"/><rect x="1083.25" y="284.75" width="10.5" height="10.5" fill="#ff0000"/><path d="M1164.9,350.7h18M1164.9,358.1h18M1173.9,350.7V358.1" stroke="#ff5a5a" stroke-width="1.3" fill="none"/><rect x="1168.65" y="349.05" width="10.5" height="10.5" fill="#ff0000"/><path d="M1242.7,377.2h18M1242.7,385.2h18M1251.7,377.2V385.2" stroke="#ff5a5a" stroke-width="1.3" fill="none"/><rect x="1246.45" y="375.95" width="10.5" height="10.5" fill="#ff0000"/><path d="M1295.3,391h18M1295.3,399h18M1304.3,391V399" stroke="#ff5a5a" stroke-width="1.3" fill="none"/><rect x="1299.05" y="389.75" width="10.5" height="10.5" fill="#ff0000"/><path d="M1334.6,394.9h18M1334.6,402.9h18M1343.6,394.9V402.9" stroke="#ff5a5a" stroke-width="1.3" fill="none"/><rect x="1338.35" y="393.65" width="10.5" height="10.5" fill="#ff0000"/><path d="M1368.8,396.7h18M1368.8,404.7h18M1377.8,396.7V404.7" stroke="#ff5a5a" stroke-width="1.3" fill="none"/><rect x="1372.55" y="395.45" width="10.5" height="10.5" fill="#ff0000"/><path d="M1399.5,396.7h18M1399.5,404.7h18M1408.5,396.7V404.7" stroke="#ff5a5a" stroke-width="1.3" fill="none"/><rect x="1403.25" y="395.45" width="10.5" height="10.5" fill="#ff0000"/><path d="M1428.3,394.1h18M1428.3,402.1h18M1437.3,394.1V402.1" stroke="#ff5a5a" stroke-width="1.3" fill="none"/><rect x="1432.05" y="392.85" width="10.5" height="10.5" fill="#ff0000"/><path d="M1455,389.7h18M1455,398.1h18M1464,389.7V398.1" stroke="#ff5a5a" stroke-width="1.3" fill="none"/><rect x="1458.75" y="388.65" width="10.5" height="10.5" fill="#ff0000"/><path d="M1480.8,380.4h18M1480.8,389.5h18M1489.8,380.4V389.5" stroke="#ff5a5a" stroke-width="1.3" fill="none"/><rect x="1484.55" y="379.65" width="10.5" height="10.5" fill="#ff0000"/><path d="M1506.6,370.7h18M1506.6,379.8h18M1515.6,370.7V379.8" stroke="#ff5a5a" stroke-width="1.3" fill="none"/><rect x="1510.35" y="370.45" width="10.5" height="10.5" fill="#ff0000"/><path d="M1529.8,361.4h18M1529.8,368.3h18M1538.8,361.4V368.3" stroke="#ff5a5a" stroke-width="1.3" fill="none"/><rect x="1533.55" y="358.95" width="10.5" height="10.5" fill="#ff0000"/><path d="M1553,347.7h18M1553,354.3h18M1562,347.7V354.3" stroke="#ff5a5a" stroke-width="1.3" fill="none"/><rect x="1556.75" y="345.25" width="10.5" height="10.5" fill="#ff0000"/><path d="M1575.5,332.2h18M1575.5,339.2h18M1584.5,332.2V339.2" stroke="#ff5a5a" stroke-width="1.3" fill="none"/><rect x="1579.25" y="330.25" width="10.5" height="10.5" fill="#ff0000"/><path d="M1598.1,313.5h18M1598.1,321.4h18M1607.1,313.5V321.4" stroke="#ff5a5a" stroke-width="1.3" fill="none"/><rect x="1601.85" y="312.35" width="10.5" height="10.5" fill="#ff0000"/><path d="M1621.3,292.7h18M1621.3,301.4h18M1630.3,292.7V301.4" stroke="#ff5a5a" stroke-width="1.3" fill="none"/><rect x="1625.05" y="291.55" width="10.5" height="10.5" fill="#ff0000"/><path d="M1644.8,266.5h18M1644.8,281.5h18M1653.8,266.5V281.5" stroke="#ff5a5a" stroke-width="1.3" fill="none"/><rect x="1648.55" y="268.15" width="10.5" height="10.5" fill="#ff0000"/><path d="M1670,233.1h18M1670,252h18M1679,233.1V252" stroke="#ff5a5a" stroke-width="1.3" fill="none"/><rect x="1673.75" y="236.65" width="10.5" height="10.5" fill="#ff0000"/><path d="M1697.6,197.6h18M1697.6,218h18M1706.6,197.6V218" stroke="#ff5a5a" stroke-width="1.3" fill="none"/><rect x="1701.35" y="201.85" width="10.5" height="10.5" fill="#ff0000"/>
<text x="6.29" y="41.84" font-family="Liberation Sans, Arial, sans-serif" font-size="42.16" textLength="19.06" lengthAdjust="spacingAndGlyphs">a</text>
<text x="32.38" y="41.34" font-family="Liberation Sans, Arial, sans-serif" font-size="44.97" textLength="9.67" lengthAdjust="spacingAndGlyphs">)</text>
<text x="867.51" y="41.82" font-family="Liberation Sans, Arial, sans-serif" font-size="44.26" textLength="23.62" lengthAdjust="spacingAndGlyphs">b</text>
<text x="895.28" y="41.06" font-family="Liberation Sans, Arial, sans-serif" font-size="43.90" textLength="9.80" lengthAdjust="spacingAndGlyphs">)</text>
<text x="842.7" y="533.40" font-family="Liberation Sans, Arial, sans-serif" font-size="25.99" text-anchor="middle" textLength="35.51" lengthAdjust="spacingAndGlyphs">0.0</text>
<text x="768.16" y="533.40" font-family="Liberation Sans, Arial, sans-serif" font-size="25.99" text-anchor="middle" textLength="35.51" lengthAdjust="spacingAndGlyphs">0.1</text>
<text x="693.62" y="533.40" font-family="Liberation Sans, Arial, sans-serif" font-size="25.99" text-anchor="middle" textLength="35.51" lengthAdjust="spacingAndGlyphs">0.2</text>
<text x="619.08" y="533.40" font-family="Liberation Sans, Arial, sans-serif" font-size="25.99" text-anchor="middle" textLength="35.51" lengthAdjust="spacingAndGlyphs">0.3</text>
<text x="544.54" y="533.40" font-family="Liberation Sans, Arial, sans-serif" font-size="25.99" text-anchor="middle" textLength="35.51" lengthAdjust="spacingAndGlyphs">0.4</text>
<text x="470" y="533.40" font-family="Liberation Sans, Arial, sans-serif" font-size="25.99" text-anchor="middle" textLength="35.51" lengthAdjust="spacingAndGlyphs">0.5</text>
<text x="395.46" y="533.40" font-family="Liberation Sans, Arial, sans-serif" font-size="25.99" text-anchor="middle" textLength="35.51" lengthAdjust="spacingAndGlyphs">0.6</text>
<text x="320.92" y="533.40" font-family="Liberation Sans, Arial, sans-serif" font-size="25.99" text-anchor="middle" textLength="35.51" lengthAdjust="spacingAndGlyphs">0.7</text>
<text x="246.38" y="533.40" font-family="Liberation Sans, Arial, sans-serif" font-size="25.99" text-anchor="middle" textLength="35.51" lengthAdjust="spacingAndGlyphs">0.8</text>
<text x="171.84" y="533.40" font-family="Liberation Sans, Arial, sans-serif" font-size="25.99" text-anchor="middle" textLength="35.51" lengthAdjust="spacingAndGlyphs">0.9</text>
<text x="97.3" y="533.40" font-family="Liberation Sans, Arial, sans-serif" font-size="25.99" text-anchor="middle" textLength="35.51" lengthAdjust="spacingAndGlyphs">1.0</text>
<text x="960.4" y="531.49" font-family="Liberation Sans, Arial, sans-serif" font-size="26.98" text-anchor="middle" textLength="14.73" lengthAdjust="spacingAndGlyphs">0</text>
<text x="1043.82" y="531.49" font-family="Liberation Sans, Arial, sans-serif" font-size="26.98" text-anchor="middle" textLength="29.45" lengthAdjust="spacingAndGlyphs">10</text>
<text x="1127.24" y="531.49" font-family="Liberation Sans, Arial, sans-serif" font-size="26.98" text-anchor="middle" textLength="29.45" lengthAdjust="spacingAndGlyphs">20</text>
<text x="1210.66" y="531.49" font-family="Liberation Sans, Arial, sans-serif" font-size="26.98" text-anchor="middle" textLength="29.45" lengthAdjust="spacingAndGlyphs">30</text>
<text x="1294.08" y="531.49" font-family="Liberation Sans, Arial, sans-serif" font-size="26.98" text-anchor="middle" textLength="29.45" lengthAdjust="spacingAndGlyphs">40</text>
<text x="1377.5" y="531.49" font-family="Liberation Sans, Arial, sans-serif" font-size="26.98" text-anchor="middle" textLength="29.45" lengthAdjust="spacingAndGlyphs">50</text>
<text x="1460.92" y="531.49" font-family="Liberation Sans, Arial, sans-serif" font-size="26.98" text-anchor="middle" textLength="29.45" lengthAdjust="spacingAndGlyphs">60</text>
<text x="1544.34" y="531.49" font-family="Liberation Sans, Arial, sans-serif" font-size="26.98" text-anchor="middle" textLength="29.45" lengthAdjust="spacingAndGlyphs">70</text>
<text x="1627.76" y="531.49" font-family="Liberation Sans, Arial, sans-serif" font-size="26.98" text-anchor="middle" textLength="29.45" lengthAdjust="spacingAndGlyphs">80</text>
<text x="1711.18" y="531.49" font-family="Liberation Sans, Arial, sans-serif" font-size="26.98" text-anchor="middle" textLength="29.45" lengthAdjust="spacingAndGlyphs">90</text>
<text x="1794.6" y="531.49" font-family="Liberation Sans, Arial, sans-serif" font-size="26.98" text-anchor="middle" textLength="44.18" lengthAdjust="spacingAndGlyphs">100</text>
<text x="49.24" y="418.41" font-family="Liberation Sans, Arial, sans-serif" font-size="24.86" textLength="27.89" lengthAdjust="spacingAndGlyphs">10</text>
<text x="78.07" y="406.15" font-family="Liberation Sans, Arial, sans-serif" font-size="16.00" textLength="8.67" lengthAdjust="spacingAndGlyphs">2</text>
<text x="909.73" y="418.89" font-family="Liberation Sans, Arial, sans-serif" font-size="26.69" textLength="29.45" lengthAdjust="spacingAndGlyphs">10</text>
<text x="939.07" y="407.95" font-family="Liberation Sans, Arial, sans-serif" font-size="17.50" textLength="9.77" lengthAdjust="spacingAndGlyphs">2</text>
<text x="49.24" y="241.61" font-family="Liberation Sans, Arial, sans-serif" font-size="24.86" textLength="27.89" lengthAdjust="spacingAndGlyphs">10</text>
<text x="78.28" y="229.19" font-family="Liberation Sans, Arial, sans-serif" font-size="16.00" textLength="8.33" lengthAdjust="spacingAndGlyphs">3</text>
<text x="909.73" y="243.19" font-family="Liberation Sans, Arial, sans-serif" font-size="26.69" textLength="29.45" lengthAdjust="spacingAndGlyphs">10</text>
<text x="939.31" y="232.08" font-family="Liberation Sans, Arial, sans-serif" font-size="17.50" textLength="9.38" lengthAdjust="spacingAndGlyphs">3</text>
<text x="49.24" y="64.81" font-family="Liberation Sans, Arial, sans-serif" font-size="24.86" textLength="27.89" lengthAdjust="spacingAndGlyphs">10</text>
<text x="78.53" y="52.55" font-family="Liberation Sans, Arial, sans-serif" font-size="16.00" textLength="7.84" lengthAdjust="spacingAndGlyphs">4</text>
<text x="909.73" y="67.49" font-family="Liberation Sans, Arial, sans-serif" font-size="26.69" textLength="29.45" lengthAdjust="spacingAndGlyphs">10</text>
<text x="939.59" y="56.55" font-family="Liberation Sans, Arial, sans-serif" font-size="17.50" textLength="8.83" lengthAdjust="spacingAndGlyphs">4</text>
<text x="195.91" y="366.95" font-family="Liberation Sans, Arial, sans-serif" font-size="32.94" textLength="74.98" lengthAdjust="spacingAndGlyphs" fill="#000">4.2 V</text>
<text x="524.21" y="357.35" font-family="Liberation Sans, Arial, sans-serif" font-size="34.45" textLength="75.08" lengthAdjust="spacingAndGlyphs" fill="#008000">4.4 V</text>
<text x="681.51" y="254.74" font-family="Liberation Sans, Arial, sans-serif" font-size="32.20" textLength="75.08" lengthAdjust="spacingAndGlyphs" fill="#ff0000">4.6 V</text>
<text x="1466.22" y="435.65" font-family="Liberation Sans, Arial, sans-serif" font-size="31.65" textLength="74.07" lengthAdjust="spacingAndGlyphs" fill="#000">4.2 V</text>
<text x="1499.51" y="312.35" font-family="Liberation Sans, Arial, sans-serif" font-size="34.45" textLength="75.38" lengthAdjust="spacingAndGlyphs" fill="#008000">4.4 V</text>
<text x="1610.91" y="201.02" font-family="Liberation Sans, Arial, sans-serif" font-size="33.47" textLength="74.98" lengthAdjust="spacingAndGlyphs" fill="#ff0000">4.6 V</text>
<text x="294.95" y="586.25" font-family="Liberation Sans, Arial, sans-serif" font-style="italic" font-size="32.37" textLength="15.02" lengthAdjust="spacingAndGlyphs">x</text>
<text x="320.78" y="586.25" font-family="Liberation Sans, Arial, sans-serif" font-size="30.36" textLength="25.28" lengthAdjust="spacingAndGlyphs">in</text>
<text x="355.30" y="586.25" font-family="Liberation Sans, Arial, sans-serif" font-size="30.36" textLength="26.11" lengthAdjust="spacingAndGlyphs">Li</text>
<text x="380.43" y="597.24" font-family="Liberation Sans, Arial, sans-serif" font-style="italic" font-size="18.89" textLength="20.47" lengthAdjust="spacingAndGlyphs">(x)</text>
<text x="400.87" y="586.25" font-family="Liberation Sans, Arial, sans-serif" font-size="30.36" textLength="30.89" lengthAdjust="spacingAndGlyphs">Ni</text>
<text x="432.19" y="597.87" font-family="Liberation Sans, Arial, sans-serif" font-size="18.52" textLength="28.46" lengthAdjust="spacingAndGlyphs">1/3</text>
<text x="460.80" y="585.95" font-family="Liberation Sans, Arial, sans-serif" font-size="31.69" textLength="46.52" lengthAdjust="spacingAndGlyphs">Mn</text>
<text x="508.18" y="597.87" font-family="Liberation Sans, Arial, sans-serif" font-size="18.52" textLength="28.68" lengthAdjust="spacingAndGlyphs">1/3</text>
<text x="536.64" y="586.72" font-family="Liberation Sans, Arial, sans-serif" font-size="33.90" textLength="43.02" lengthAdjust="spacingAndGlyphs">Co</text>
<text x="580.21" y="597.87" font-family="Liberation Sans, Arial, sans-serif" font-size="18.52" textLength="28.02" lengthAdjust="spacingAndGlyphs">1/3</text>
<text x="608.20" y="586.72" font-family="Liberation Sans, Arial, sans-serif" font-size="33.90" textLength="25.52" lengthAdjust="spacingAndGlyphs">O</text>
<text x="632.93" y="598.05" font-family="Liberation Sans, Arial, sans-serif" font-size="19.48" textLength="11.23" lengthAdjust="spacingAndGlyphs">2</text>
<text x="1267.91" y="574.22" font-family="Liberation Sans, Arial, sans-serif" font-size="34.18" textLength="73.33" lengthAdjust="spacingAndGlyphs">SOC</text>
<text x="1341.48" y="583.68" font-family="Liberation Sans, Arial, sans-serif" font-size="21.56" textLength="86.44" lengthAdjust="spacingAndGlyphs">adjusted</text>
<text x="1437.75" y="574.33" font-family="Liberation Sans, Arial, sans-serif" font-size="33.23" textLength="9.20" lengthAdjust="spacingAndGlyphs">/</text>
<text x="1457.03" y="575.05" font-family="Liberation Sans, Arial, sans-serif" font-size="34.87" textLength="27.94" lengthAdjust="spacingAndGlyphs">%</text>
<g transform="rotate(-90)"><text x="-340.91" y="32.35" font-family="Liberation Sans, Arial, sans-serif" font-size="30.67" textLength="20.80" lengthAdjust="spacingAndGlyphs">R</text><text x="-318.51" y="44.95" font-family="Liberation Sans, Arial, sans-serif" font-size="20.72" textLength="15.81" lengthAdjust="spacingAndGlyphs">ct</text><text x="-292.05" y="33.03" font-family="Liberation Sans, Arial, sans-serif" font-size="32.82" textLength="9.20" lengthAdjust="spacingAndGlyphs">/</text><text x="-272.59" y="32.35" font-family="Liberation Sans, Arial, sans-serif" font-size="30.93" textLength="25.40" lengthAdjust="spacingAndGlyphs">Ω</text><text x="-246.25" y="32.55" font-family="Liberation Sans, Arial, sans-serif" font-size="30.30" textLength="15.31" lengthAdjust="spacingAndGlyphs">c</text><text x="-229.49" y="33.05" font-family="Liberation Sans, Arial, sans-serif" font-size="33.08" textLength="29.36" lengthAdjust="spacingAndGlyphs">m</text><text x="-200.72" y="16.95" font-family="Liberation Sans, Arial, sans-serif" font-size="19.33" textLength="9.64" lengthAdjust="spacingAndGlyphs">2</text><text x="-200.79" y="44.25" font-family="Liberation Sans, Arial, sans-serif" font-size="19.77" textLength="36.57" lengthAdjust="spacingAndGlyphs">BET</text></g>
<g transform="rotate(-90)"><text x="-318.90" y="894.35" font-family="Liberation Sans, Arial, sans-serif" font-size="32.56" textLength="24.20" lengthAdjust="spacingAndGlyphs">R</text><text x="-294.37" y="904.42" font-family="Liberation Sans, Arial, sans-serif" font-size="23.77" textLength="16.77" lengthAdjust="spacingAndGlyphs">ct</text><text x="-266.65" y="894.83" font-family="Liberation Sans, Arial, sans-serif" font-size="32.82" textLength="9.20" lengthAdjust="spacingAndGlyphs">/</text><text x="-248.66" y="894.35" font-family="Liberation Sans, Arial, sans-serif" font-size="30.22" textLength="26.65" lengthAdjust="spacingAndGlyphs">Ω</text><text x="-221.19" y="894.55" font-family="Liberation Sans, Arial, sans-serif" font-size="31.21" textLength="15.77" lengthAdjust="spacingAndGlyphs">c</text><text x="-205.83" y="894.85" font-family="Liberation Sans, Arial, sans-serif" font-size="31.78" textLength="27.34" lengthAdjust="spacingAndGlyphs">m</text><text x="-175.97" y="880.25" font-family="Liberation Sans, Arial, sans-serif" font-size="19.05" textLength="11.23" lengthAdjust="spacingAndGlyphs">2</text><text x="-175.96" y="903.35" font-family="Liberation Sans, Arial, sans-serif" font-size="22.97" textLength="42.81" lengthAdjust="spacingAndGlyphs">BET</text></g>
<text x="1217.08" y="45.57" font-family="Liberation Sans, Arial, sans-serif" font-size="28.32" textLength="170.72" lengthAdjust="spacingAndGlyphs">From theory:</text>
<text x="1219.71" y="116.75" font-family="Liberation Serif, Times New Roman, serif" font-style="italic" font-size="33.29" textLength="18.13" lengthAdjust="spacingAndGlyphs">R</text>
<text x="1238.99" y="122.42" font-family="Liberation Serif, Times New Roman, serif" font-size="23.57" textLength="20.02" lengthAdjust="spacingAndGlyphs">ct</text>
<text x="1267.38" y="120.32" font-family="WenQuanYi Zen Hei, sans-serif" font-size="42.15" textLength="37.04" lengthAdjust="spacingAndGlyphs">∝</text>
<text x="1434.53" y="92.15" font-family="Liberation Serif, Times New Roman, serif" font-size="31.81" textLength="16.62" lengthAdjust="spacingAndGlyphs">1</text>
<path d="M1306.6,107.4H1579.4" stroke="#222" stroke-width="2.3"/>
<text x="1306.75" y="137.05" font-family="Liberation Serif, Times New Roman, serif" font-size="32.42" textLength="13.61" lengthAdjust="spacingAndGlyphs">(</text>
<text x="1320.86" y="137.06" font-family="Liberation Serif, Times New Roman, serif" font-style="italic" font-size="29.52" textLength="12.91" lengthAdjust="spacingAndGlyphs">c</text>
<text x="1333.58" y="145.28" font-family="Liberation Serif, Times New Roman, serif" font-size="27.65" textLength="46.80" lengthAdjust="spacingAndGlyphs">max</text>
<text x="1389.89" y="137.74" font-family="Liberation Serif, Times New Roman, serif" font-size="27.00" textLength="22.18" lengthAdjust="spacingAndGlyphs">−</text>
<text x="1420.22" y="138.24" font-family="Liberation Serif, Times New Roman, serif" font-style="italic" font-size="32.02" textLength="13.35" lengthAdjust="spacingAndGlyphs">c</text>
<text x="1433.14" y="145.30" font-family="Liberation Serif, Times New Roman, serif" font-size="25.99" textLength="11.47" lengthAdjust="spacingAndGlyphs">s</text>
<text x="1446.60" y="137.05" font-family="Liberation Serif, Times New Roman, serif" font-size="32.42" textLength="11.93" lengthAdjust="spacingAndGlyphs">)</text>
<text x="1460.36" y="127.64" font-family="Liberation Serif, Times New Roman, serif" font-size="21.60" textLength="13.68" lengthAdjust="spacingAndGlyphs">α</text>
<text x="1474.97" y="133.81" font-family="Liberation Serif, Times New Roman, serif" font-size="24.43" textLength="9.89" lengthAdjust="spacingAndGlyphs">a</text>
<text x="1495.62" y="142.08" font-family="Liberation Serif, Times New Roman, serif" font-size="39.78" textLength="23.02" lengthAdjust="spacingAndGlyphs">×</text>
<text x="1526.39" y="138.24" font-family="Liberation Serif, Times New Roman, serif" font-style="italic" font-size="32.02" textLength="13.79" lengthAdjust="spacingAndGlyphs">c</text>
<text x="1540.19" y="144.90" font-family="Liberation Serif, Times New Roman, serif" font-size="25.16" textLength="10.98" lengthAdjust="spacingAndGlyphs">s</text>
<text x="1553.16" y="126.82" font-family="Liberation Serif, Times New Roman, serif" font-size="23.47" textLength="13.57" lengthAdjust="spacingAndGlyphs">α</text>
<text x="1568.06" y="132.53" font-family="Liberation Serif, Times New Roman, serif" font-size="22.46" textLength="10.42" lengthAdjust="spacingAndGlyphs">c</text>
<text x="1680.87" y="133.53" font-family="Liberation Serif, Times New Roman, serif" font-size="32.61" textLength="17.64" lengthAdjust="spacingAndGlyphs">α</text>
<text x="1708.31" y="135.18" font-family="Liberation Serif, Times New Roman, serif" font-size="33.00" textLength="23.15" lengthAdjust="spacingAndGlyphs">=</text>
<text x="1741.61" y="133.85" font-family="Liberation Serif, Times New Roman, serif" font-size="32.62" textLength="16.34" lengthAdjust="spacingAndGlyphs">2</text>
<text x="978.05" y="471.95" font-family="Liberation Serif, Times New Roman, serif" font-size="31.16" textLength="17.86" lengthAdjust="spacingAndGlyphs">α</text>
<text x="1005.31" y="474.48" font-family="Liberation Serif, Times New Roman, serif" font-size="33.00" textLength="23.15" lengthAdjust="spacingAndGlyphs">=</text>
<text x="1038.70" y="472.19" font-family="Liberation Serif, Times New Roman, serif" font-size="32.39" textLength="41.03" lengthAdjust="spacingAndGlyphs">0.5</text>
<text x="110.92" y="480.14" font-family="Liberation Serif, Times New Roman, serif" font-size="31.78" textLength="18.32" lengthAdjust="spacingAndGlyphs">α</text>
<text x="138.75" y="482.48" font-family="Liberation Serif, Times New Roman, serif" font-size="33.00" textLength="22.66" lengthAdjust="spacingAndGlyphs">=</text>
<text x="171.20" y="480.48" font-family="Liberation Serif, Times New Roman, serif" font-size="32.98" textLength="41.03" lengthAdjust="spacingAndGlyphs">0.5</text>
</svg>
</body></html>
